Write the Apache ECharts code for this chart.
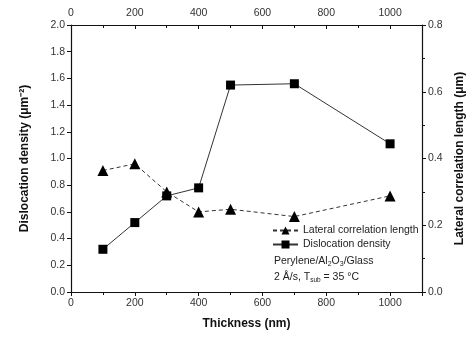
<!DOCTYPE html>
<html><head><meta charset="utf-8">
<script src="https://cdn.jsdelivr.net/npm/echarts@6/dist/echarts.min.js"></script>
<style>html,body{margin:0;padding:0;background:#fff}#c{width:474px;height:342px}</style>
</head><body><div id="c"></div>
<script>
const thickness = [100, 200, 300, 400, 500, 700, 1000];
const dislocationDensity = [0.32, 0.52, 0.72, 0.78, 1.55, 1.56, 1.11];
const lateralLength = [0.364, 0.384, 0.300, 0.240, 0.248, 0.226, 0.288];
const xTicks = [0, 200, 400, 600, 800, 1000];

const font = 'Liberation Sans, Arial, sans-serif';
const chart = echarts.init(document.getElementById('c'));
const axisLine = {show: true, onZero: false, lineStyle: {color: '#111', width: 1.2}};
const lbl = {color: '#333', fontFamily: font, fontSize: 10.5};
chart.setOption({
  animation: false,
  grid: {left: 71, right: 48, top: 25, bottom: 50},
  xAxis: [
    {type: 'value', position: 'bottom', min: 0, max: 1100, interval: 200,
     axisLine, splitLine: {show: false},
     axisTick: {inside: false, length: 4, lineStyle: {color: '#111'}},
     minorTick: {show: true, splitNumber: 2, length: 3, lineStyle: {color: '#111'}},
     axisLabel: Object.assign({}, lbl, {margin: 6, formatter: v => xTicks.includes(v) ? String(v) : ''}),
     name: 'Thickness (nm)', nameLocation: 'middle', nameGap: 26,
     nameTextStyle: {fontFamily: font, fontSize: 12, fontWeight: 'bold', color: '#111'}},
    {type: 'value', position: 'top', min: 0, max: 1100, interval: 200,
     axisLine, splitLine: {show: false},
     axisTick: {inside: true, length: 4, lineStyle: {color: '#111'}},
     minorTick: {show: true, splitNumber: 2, length: 3, lineStyle: {color: '#111'}},
     axisLabel: Object.assign({}, lbl, {margin: 6, formatter: v => xTicks.includes(v) ? String(v) : ''})}
  ],
  yAxis: [
    {type: 'value', position: 'left', min: 0, max: 2, interval: 0.2,
     axisLine, splitLine: {show: false},
     axisTick: {show: true, inside: false, length: 4, lineStyle: {color: '#111'}},
     axisLabel: Object.assign({}, lbl, {margin: 6, formatter: v => v.toFixed(1)}),
     name: 'Dislocation density (μm⁻²)', nameLocation: 'middle', nameGap: 40,
     nameTextStyle: {fontFamily: font, fontSize: 12, fontWeight: 'bold', color: '#111'}},
    {type: 'value', position: 'right', min: 0, max: 0.8, interval: 0.2,
     axisLine, splitLine: {show: false},
     axisTick: {show: true, inside: false, length: 4, lineStyle: {color: '#111'}},
     minorTick: {show: true, splitNumber: 2, length: 3, lineStyle: {color: '#111'}},
     axisLabel: Object.assign({}, lbl, {margin: 6, formatter: v => v.toFixed(1)}),
     name: 'Lateral correlation length (μm)', nameLocation: 'middle', nameGap: 32, nameRotate: 90,
     nameTextStyle: {fontFamily: font, fontSize: 12, fontWeight: 'bold', color: '#111'}}
  ],
  legend: {
    orient: 'vertical', left: 272, top: 225, padding: 0, itemGap: 3, itemWidth: 25, itemHeight: 10,
    textStyle: {fontFamily: font, fontSize: 10.5, color: '#222'},
    data: ['Lateral correlation length', 'Dislocation density']
  },
  graphic: [
    {type: 'text', left: 274, top: 256, style: {
      text: '{a|Perylene/Al}{s|2}{a|O}{s|3}{a|/Glass}',
      rich: {a: {fontFamily: font, fontSize: 10.5, fill: '#222'}, s: {fontFamily: font, fontSize: 7, fill: '#222', padding: [6, 0, 0, 0]}}}},
    {type: 'text', left: 274, top: 272, style: {
      text: '{a|2 Å/s, T}{s|sub}{a| = 35 °C}',
      rich: {a: {fontFamily: font, fontSize: 10.5, fill: '#222'}, s: {fontFamily: font, fontSize: 6.5, fill: '#222', padding: [6, 0, 0, 0]}}}}
  ],
  series: [
    {name: 'Lateral correlation length', type: 'line', xAxisIndex: 0, yAxisIndex: 1,
     data: thickness.map((t, i) => [t, lateralLength[i]]),
     symbol: 'triangle', symbolSize: 11,
     lineStyle: {color: '#333', width: 1, type: [4, 3]},
     itemStyle: {color: '#000'}},
    {name: 'Dislocation density', type: 'line', xAxisIndex: 0, yAxisIndex: 0,
     data: thickness.map((t, i) => [t, dislocationDensity[i]]),
     symbol: 'rect', symbolSize: 9,
     lineStyle: {color: '#333', width: 1},
     itemStyle: {color: '#000'}}
  ]
});
</script></body></html>
